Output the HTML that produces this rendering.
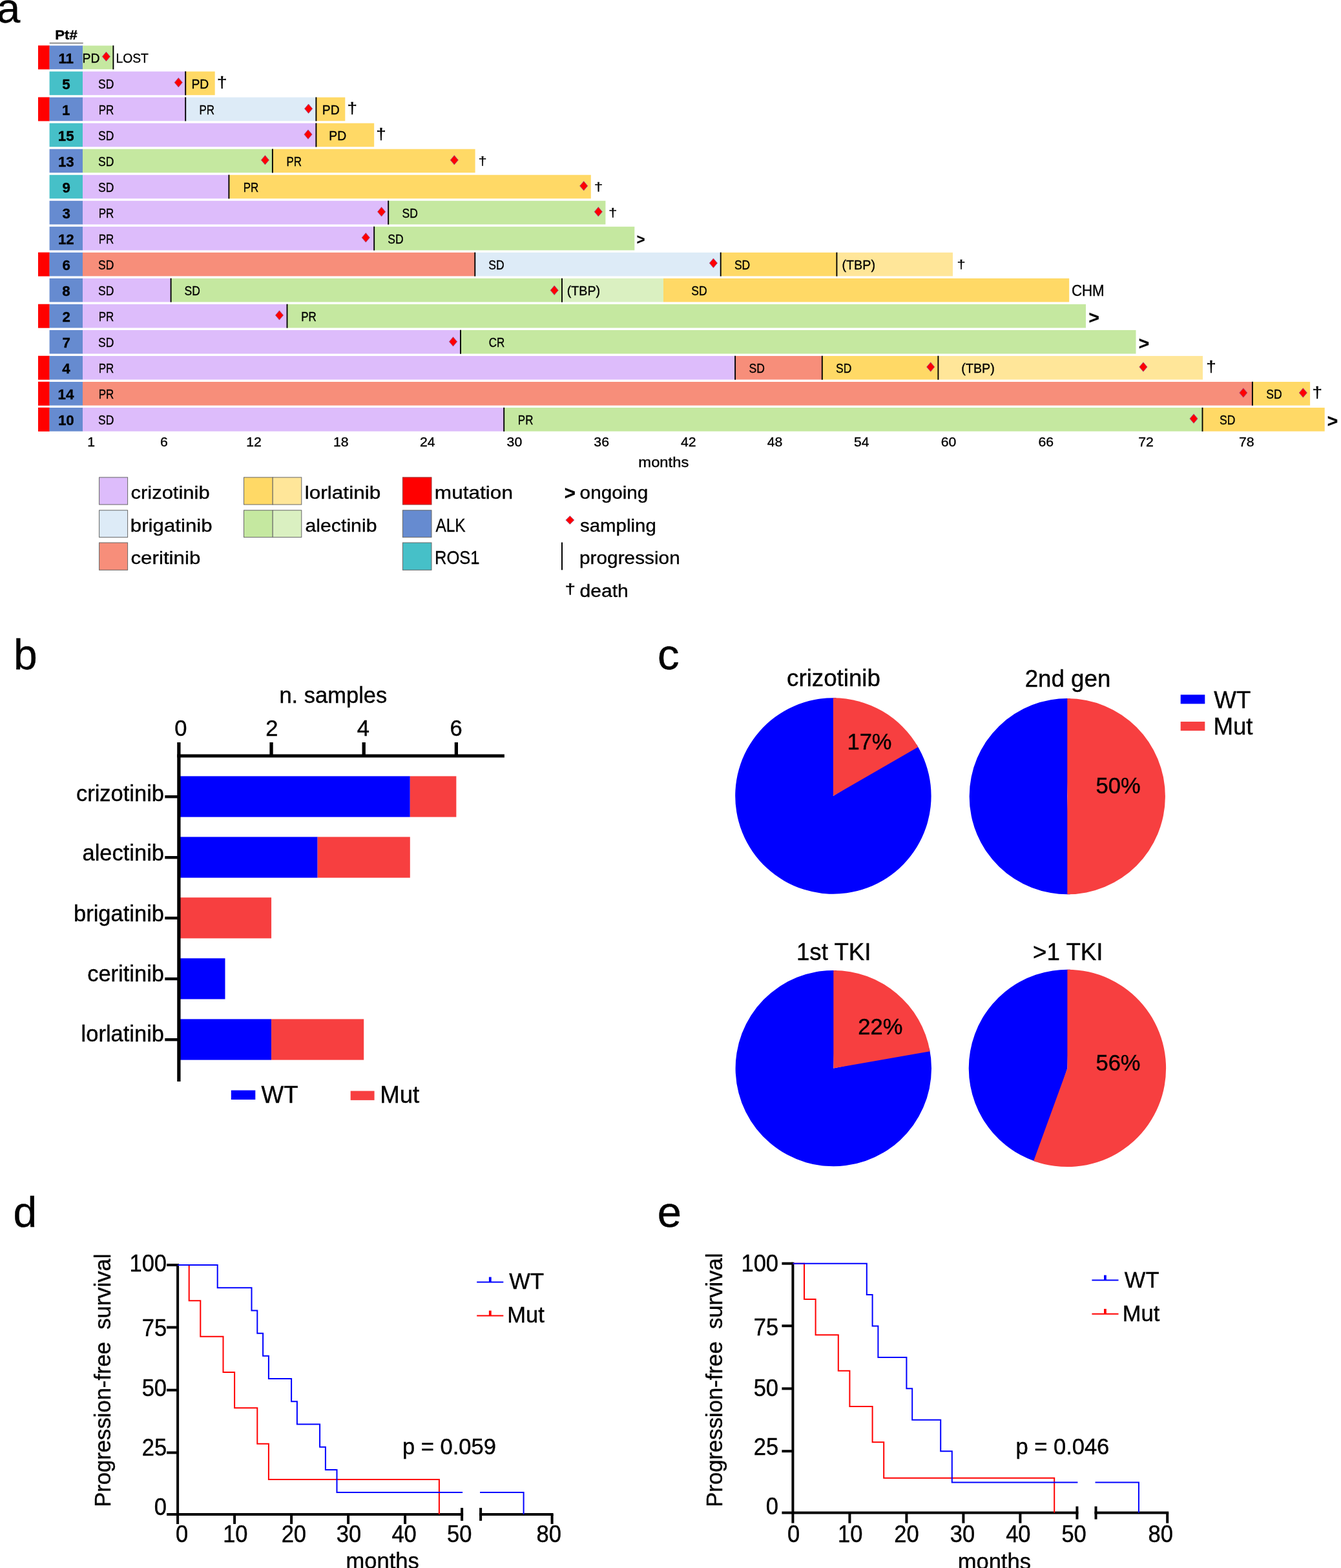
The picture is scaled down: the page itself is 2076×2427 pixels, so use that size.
<!DOCTYPE html>
<html lang="en">
<head>
<meta charset="utf-8">
<title>Figure: TKI treatment timelines and mutation analysis</title>
<style>
html,body{margin:0;padding:0;background:#fff;}
body{width:2076px;height:2427px;overflow:hidden;}
svg{display:block;font-family:"Liberation Sans", sans-serif;}
text{white-space:pre;}
</style>
</head>
<body>
<svg width="2076" height="2427" viewBox="0 0 2076 2427">
<rect width="2076" height="2427" fill="#ffffff"/>
<g id="panel-a">
<text transform="translate(-5.01,35.3) scale(0.9953,1.0000)" font-size="65.5" stroke="#000" stroke-width="0.35">a</text>
<text transform="translate(85.26,61.4) scale(1.0586,1.0000)" font-size="21" font-weight="bold" stroke="#000" stroke-width="0.35">Pt#</text>
<line x1="76.7" y1="66.7" x2="128.7" y2="66.7" stroke="#333" stroke-width="1.1"/>
<rect x="59" y="70.4" width="17.8" height="37" fill="#FF0000"/>
<rect x="76.6" y="70.6" width="51.6" height="36.6" fill="#668BD0"/>
<rect x="128" y="70.6" width="47" height="36.6" fill="#C5E8A0"/>
<line x1="175.4" y1="70.4" x2="175.4" y2="107.4" stroke="#000" stroke-width="1.9"/>
<polygon points="164.4,80.35 170.55,87.6 164.4,94.85 158.25,87.6" fill="#ff0000" stroke="#8a5aa8" stroke-width="0.7"/>
<text transform="translate(90.44,97.8) scale(1.0000,1.0000)" font-size="22.3" font-weight="bold" stroke="#000" stroke-width="0.35">11</text>
<text transform="translate(127.55,97) scale(0.9478,1.0000)" font-size="20.4" stroke="#000" stroke-width="0.35">PD</text>
<text transform="translate(179.46,97) scale(0.9449,1.0000)" font-size="20.4" stroke="#000" stroke-width="0.35">LOST</text>
<rect x="76.6" y="110.63" width="51.6" height="36.6" fill="#46C0C8"/>
<rect x="128" y="110.63" width="159.2" height="36.6" fill="#DDBCFB"/>
<rect x="287.2" y="110.63" width="45.5" height="36.6" fill="#FFD966"/>
<line x1="287.2" y1="110.43" x2="287.2" y2="147.43" stroke="#000" stroke-width="1.9"/>
<polygon points="276.3,120.38 282.45,127.63 276.3,134.88 270.15,127.63" fill="#ff0000" stroke="#8a5aa8" stroke-width="0.7"/>
<text transform="translate(96.36,137.83) scale(1.0000,1.0000)" font-size="22.3" font-weight="bold" stroke="#000" stroke-width="0.35">5</text>
<text transform="translate(152.11,137.03) scale(0.8579,1.0000)" font-size="20.4" stroke="#000" stroke-width="0.35">SD</text>
<text transform="translate(296.45,137.03) scale(0.9478,1.0000)" font-size="20.4" stroke="#000" stroke-width="0.35">PD</text>
<text transform="translate(336.1,135.53) scale(1.1666,1.0000)" font-size="23.8" stroke="#000" stroke-width="0.35">†</text>
<rect x="59" y="150.46" width="17.8" height="37" fill="#FF0000"/>
<rect x="76.6" y="150.66" width="51.6" height="36.6" fill="#668BD0"/>
<rect x="128" y="150.66" width="159.2" height="36.6" fill="#DDBCFB"/>
<rect x="287.2" y="150.66" width="202.2" height="36.6" fill="#DDEBF7"/>
<rect x="489.4" y="150.66" width="44.9" height="36.6" fill="#FFD966"/>
<line x1="287.2" y1="150.46" x2="287.2" y2="187.46" stroke="#000" stroke-width="1.9"/>
<line x1="489.4" y1="150.46" x2="489.4" y2="187.46" stroke="#000" stroke-width="1.9"/>
<polygon points="477.6,161.01 483.75,168.26 477.6,175.51 471.45,168.26" fill="#ff0000" stroke="#8a5aa8" stroke-width="0.7"/>
<text transform="translate(96.02,177.86) scale(1.0000,1.0000)" font-size="22.3" font-weight="bold" stroke="#000" stroke-width="0.35">1</text>
<text transform="translate(152.74,177.06) scale(0.8318,1.0000)" font-size="20.4" stroke="#000" stroke-width="0.35">PR</text>
<text transform="translate(308.54,177.06) scale(0.8318,1.0000)" font-size="20.4" stroke="#000" stroke-width="0.35">PR</text>
<text transform="translate(498.75,177.06) scale(0.9478,1.0000)" font-size="20.4" stroke="#000" stroke-width="0.35">PD</text>
<text transform="translate(537.4,175.56) scale(1.1666,1.0000)" font-size="23.8" stroke="#000" stroke-width="0.35">†</text>
<rect x="76.6" y="190.69" width="51.6" height="36.6" fill="#46C0C8"/>
<rect x="128" y="190.69" width="361.4" height="36.6" fill="#DDBCFB"/>
<rect x="489.4" y="190.69" width="89.8" height="36.6" fill="#FFD966"/>
<line x1="489.4" y1="190.49" x2="489.4" y2="227.49" stroke="#000" stroke-width="1.9"/>
<polygon points="477,200.84 483.15,208.09 477,215.34 470.85,208.09" fill="#ff0000" stroke="#8a5aa8" stroke-width="0.7"/>
<text transform="translate(89.82,217.89) scale(1.0000,1.0000)" font-size="22.3" font-weight="bold" stroke="#000" stroke-width="0.35">15</text>
<text transform="translate(152.11,217.09) scale(0.8579,1.0000)" font-size="20.4" stroke="#000" stroke-width="0.35">SD</text>
<text transform="translate(509.35,217.09) scale(0.9478,1.0000)" font-size="20.4" stroke="#000" stroke-width="0.35">PD</text>
<text transform="translate(582.3,215.59) scale(1.1666,1.0000)" font-size="23.8" stroke="#000" stroke-width="0.35">†</text>
<rect x="76.6" y="230.72" width="51.6" height="36.6" fill="#668BD0"/>
<rect x="128" y="230.72" width="293.9" height="36.6" fill="#C5E8A0"/>
<rect x="421.9" y="230.72" width="313.7" height="36.6" fill="#FFD966"/>
<line x1="421.9" y1="230.52" x2="421.9" y2="267.52" stroke="#000" stroke-width="1.9"/>
<polygon points="410.4,240.47 416.55,247.72 410.4,254.97 404.25,247.72" fill="#ff0000" stroke="#8a5aa8" stroke-width="0.7"/>
<polygon points="703.3,240.47 709.45,247.72 703.3,254.97 697.15,247.72" fill="#ff0000" stroke="#8a5aa8" stroke-width="0.7"/>
<text transform="translate(89.93,257.92) scale(1.0000,1.0000)" font-size="22.3" font-weight="bold" stroke="#000" stroke-width="0.35">13</text>
<text transform="translate(152.11,257.12) scale(0.8579,1.0000)" font-size="20.4" stroke="#000" stroke-width="0.35">SD</text>
<text transform="translate(443.54,257.12) scale(0.8318,1.0000)" font-size="20.4" stroke="#000" stroke-width="0.35">PR</text>
<text transform="translate(740.47,254.92) scale(1.2650,1.0000)" font-size="18.6" stroke="#000" stroke-width="0.35">†</text>
<rect x="76.6" y="270.75" width="51.6" height="36.6" fill="#46C0C8"/>
<rect x="128" y="270.75" width="226.4" height="36.6" fill="#DDBCFB"/>
<rect x="354.4" y="270.75" width="560.4" height="36.6" fill="#FFD966"/>
<line x1="354.4" y1="270.55" x2="354.4" y2="307.55" stroke="#000" stroke-width="1.9"/>
<polygon points="903.7,280.5 909.85,287.75 903.7,295 897.55,287.75" fill="#ff0000" stroke="#8a5aa8" stroke-width="0.7"/>
<text transform="translate(96.47,297.95) scale(1.0000,1.0000)" font-size="22.3" font-weight="bold" stroke="#000" stroke-width="0.35">9</text>
<text transform="translate(152.11,297.15) scale(0.8579,1.0000)" font-size="20.4" stroke="#000" stroke-width="0.35">SD</text>
<text transform="translate(376.64,297.15) scale(0.8318,1.0000)" font-size="20.4" stroke="#000" stroke-width="0.35">PR</text>
<text transform="translate(920.07,294.95) scale(1.2650,1.0000)" font-size="18.6" stroke="#000" stroke-width="0.35">†</text>
<rect x="76.6" y="310.78" width="51.6" height="36.6" fill="#668BD0"/>
<rect x="128" y="310.78" width="473.2" height="36.6" fill="#DDBCFB"/>
<rect x="601.2" y="310.78" width="336.2" height="36.6" fill="#C5E8A0"/>
<line x1="601.2" y1="310.58" x2="601.2" y2="347.58" stroke="#000" stroke-width="1.9"/>
<polygon points="590.6,320.53 596.75,327.78 590.6,335.03 584.45,327.78" fill="#ff0000" stroke="#8a5aa8" stroke-width="0.7"/>
<polygon points="926.3,320.53 932.45,327.78 926.3,335.03 920.15,327.78" fill="#ff0000" stroke="#8a5aa8" stroke-width="0.7"/>
<text transform="translate(96.58,337.98) scale(1.0000,1.0000)" font-size="22.3" font-weight="bold" stroke="#000" stroke-width="0.35">3</text>
<text transform="translate(152.74,337.18) scale(0.8318,1.0000)" font-size="20.4" stroke="#000" stroke-width="0.35">PR</text>
<text transform="translate(622.51,337.18) scale(0.8579,1.0000)" font-size="20.4" stroke="#000" stroke-width="0.35">SD</text>
<text transform="translate(942.37,334.98) scale(1.2650,1.0000)" font-size="18.6" stroke="#000" stroke-width="0.35">†</text>
<rect x="76.6" y="350.81" width="51.6" height="36.6" fill="#668BD0"/>
<rect x="128" y="350.81" width="451.2" height="36.6" fill="#DDBCFB"/>
<rect x="579.2" y="350.81" width="403.1" height="36.6" fill="#C5E8A0"/>
<line x1="579.2" y1="350.61" x2="579.2" y2="387.61" stroke="#000" stroke-width="1.9"/>
<polygon points="566.3,360.56 572.45,367.81 566.3,375.06 560.15,367.81" fill="#ff0000" stroke="#8a5aa8" stroke-width="0.7"/>
<text transform="translate(89.93,378.01) scale(1.0000,1.0000)" font-size="22.3" font-weight="bold" stroke="#000" stroke-width="0.35">12</text>
<text transform="translate(152.74,377.21) scale(0.8318,1.0000)" font-size="20.4" stroke="#000" stroke-width="0.35">PR</text>
<text transform="translate(600.21,377.21) scale(0.8579,1.0000)" font-size="20.4" stroke="#000" stroke-width="0.35">SD</text>
<text transform="translate(985.83,378.21) scale(1.0038,1.0000)" font-size="21.7" font-weight="bold" stroke="#000" stroke-width="0.35">&gt;</text>
<rect x="59" y="390.64" width="17.8" height="37" fill="#FF0000"/>
<rect x="76.6" y="390.84" width="51.6" height="36.6" fill="#668BD0"/>
<rect x="128" y="390.84" width="607.3" height="36.6" fill="#F78E7A"/>
<rect x="735.3" y="390.84" width="380.4" height="36.6" fill="#DDEBF7"/>
<rect x="1115.7" y="390.84" width="179.7" height="36.6" fill="#FFD966"/>
<rect x="1295.4" y="390.84" width="179.6" height="36.6" fill="#FFE699"/>
<line x1="735.3" y1="390.64" x2="735.3" y2="427.64" stroke="#000" stroke-width="1.9"/>
<line x1="1115.7" y1="390.64" x2="1115.7" y2="427.64" stroke="#000" stroke-width="1.9"/>
<line x1="1295.4" y1="390.64" x2="1295.4" y2="427.64" stroke="#000" stroke-width="1.9"/>
<polygon points="1104.4,399.99 1110.55,407.24 1104.4,414.49 1098.25,407.24" fill="#ff0000" stroke="#8a5aa8" stroke-width="0.7"/>
<text transform="translate(96.41,418.04) scale(1.0000,1.0000)" font-size="22.3" font-weight="bold" stroke="#000" stroke-width="0.35">6</text>
<text transform="translate(152.11,417.24) scale(0.8579,1.0000)" font-size="20.4" stroke="#000" stroke-width="0.35">SD</text>
<text transform="translate(756.31,417.24) scale(0.8579,1.0000)" font-size="20.4" stroke="#000" stroke-width="0.35">SD</text>
<text transform="translate(1136.91,417.24) scale(0.8579,1.0000)" font-size="20.4" stroke="#000" stroke-width="0.35">SD</text>
<text transform="translate(1303.52,417.24) scale(0.9655,1.0000)" font-size="20.4" stroke="#000" stroke-width="0.35">(TBP)</text>
<text transform="translate(1481.47,415.04) scale(1.2650,1.0000)" font-size="18.6" stroke="#000" stroke-width="0.35">†</text>
<rect x="76.6" y="430.87" width="51.6" height="36.6" fill="#668BD0"/>
<rect x="128" y="430.87" width="136.6" height="36.6" fill="#DDBCFB"/>
<rect x="264.6" y="430.87" width="605.4" height="36.6" fill="#C5E8A0"/>
<rect x="870" y="430.87" width="157" height="36.6" fill="#DAF0C1"/>
<rect x="1027" y="430.87" width="628.2" height="36.6" fill="#FFD966"/>
<line x1="264.6" y1="430.67" x2="264.6" y2="467.67" stroke="#000" stroke-width="1.9"/>
<line x1="870" y1="430.67" x2="870" y2="467.67" stroke="#000" stroke-width="1.9"/>
<polygon points="858.2,442.12 864.35,449.37 858.2,456.62 852.05,449.37" fill="#ff0000" stroke="#8a5aa8" stroke-width="0.7"/>
<text transform="translate(96.36,458.07) scale(1.0000,1.0000)" font-size="22.3" font-weight="bold" stroke="#000" stroke-width="0.35">8</text>
<text transform="translate(152.11,457.27) scale(0.8579,1.0000)" font-size="20.4" stroke="#000" stroke-width="0.35">SD</text>
<text transform="translate(285.61,457.27) scale(0.8579,1.0000)" font-size="20.4" stroke="#000" stroke-width="0.35">SD</text>
<text transform="translate(877.72,457.27) scale(0.9655,1.0000)" font-size="20.4" stroke="#000" stroke-width="0.35">(TBP)</text>
<text transform="translate(1070.31,457.27) scale(0.8579,1.0000)" font-size="20.4" stroke="#000" stroke-width="0.35">SD</text>
<text transform="translate(1658.89,458.47) scale(0.9524,1.0000)" font-size="23.4" stroke="#000" stroke-width="0.35">CHM</text>
<rect x="59" y="470.7" width="17.8" height="37" fill="#FF0000"/>
<rect x="76.6" y="470.9" width="51.6" height="36.6" fill="#668BD0"/>
<rect x="128" y="470.9" width="316.5" height="36.6" fill="#DDBCFB"/>
<rect x="444.5" y="470.9" width="1236.5" height="36.6" fill="#C5E8A0"/>
<line x1="444.5" y1="470.7" x2="444.5" y2="507.7" stroke="#000" stroke-width="1.9"/>
<polygon points="432.5,480.65 438.65,487.9 432.5,495.15 426.35,487.9" fill="#ff0000" stroke="#8a5aa8" stroke-width="0.7"/>
<text transform="translate(96.47,498.1) scale(1.0000,1.0000)" font-size="22.3" font-weight="bold" stroke="#000" stroke-width="0.35">2</text>
<text transform="translate(152.74,497.3) scale(0.8318,1.0000)" font-size="20.4" stroke="#000" stroke-width="0.35">PR</text>
<text transform="translate(466.14,497.3) scale(0.8318,1.0000)" font-size="20.4" stroke="#000" stroke-width="0.35">PR</text>
<text transform="translate(1685.48,500.8) scale(0.9936,1.0000)" font-size="28.3" font-weight="bold" stroke="#000" stroke-width="0.35">&gt;</text>
<rect x="76.6" y="510.93" width="51.6" height="36.6" fill="#668BD0"/>
<rect x="128" y="510.93" width="585" height="36.6" fill="#DDBCFB"/>
<rect x="713" y="510.93" width="1045.5" height="36.6" fill="#C5E8A0"/>
<line x1="713" y1="510.73" x2="713" y2="547.73" stroke="#000" stroke-width="1.9"/>
<polygon points="701.5,521.58 707.65,528.83 701.5,536.08 695.35,528.83" fill="#ff0000" stroke="#8a5aa8" stroke-width="0.7"/>
<text transform="translate(96.41,538.13) scale(1.0000,1.0000)" font-size="22.3" font-weight="bold" stroke="#000" stroke-width="0.35">7</text>
<text transform="translate(152.11,537.33) scale(0.8579,1.0000)" font-size="20.4" stroke="#000" stroke-width="0.35">SD</text>
<text transform="translate(756.85,537.33) scale(0.8338,1.0000)" font-size="20.4" stroke="#000" stroke-width="0.35">CR</text>
<text transform="translate(1762.68,540.83) scale(0.9936,1.0000)" font-size="28.3" font-weight="bold" stroke="#000" stroke-width="0.35">&gt;</text>
<rect x="59" y="550.76" width="17.8" height="37" fill="#FF0000"/>
<rect x="76.6" y="550.96" width="51.6" height="36.6" fill="#668BD0"/>
<rect x="128" y="550.96" width="1010.1" height="36.6" fill="#DDBCFB"/>
<rect x="1138.1" y="550.96" width="134.7" height="36.6" fill="#F78E7A"/>
<rect x="1272.8" y="550.96" width="179.6" height="36.6" fill="#FFD966"/>
<rect x="1452.4" y="550.96" width="409.6" height="36.6" fill="#FFE699"/>
<line x1="1138.1" y1="550.76" x2="1138.1" y2="587.76" stroke="#000" stroke-width="1.9"/>
<line x1="1272.8" y1="550.76" x2="1272.8" y2="587.76" stroke="#000" stroke-width="1.9"/>
<line x1="1452.4" y1="550.76" x2="1452.4" y2="587.76" stroke="#000" stroke-width="1.9"/>
<polygon points="1440.7,560.71 1446.85,567.96 1440.7,575.21 1434.55,567.96" fill="#ff0000" stroke="#8a5aa8" stroke-width="0.7"/>
<polygon points="1769.9,560.71 1776.05,567.96 1769.9,575.21 1763.75,567.96" fill="#ff0000" stroke="#8a5aa8" stroke-width="0.7"/>
<text transform="translate(96.24,578.16) scale(1.0000,1.0000)" font-size="22.3" font-weight="bold" stroke="#000" stroke-width="0.35">4</text>
<text transform="translate(152.74,577.36) scale(0.8318,1.0000)" font-size="20.4" stroke="#000" stroke-width="0.35">PR</text>
<text transform="translate(1159.51,577.36) scale(0.8579,1.0000)" font-size="20.4" stroke="#000" stroke-width="0.35">SD</text>
<text transform="translate(1294.11,577.36) scale(0.8579,1.0000)" font-size="20.4" stroke="#000" stroke-width="0.35">SD</text>
<text transform="translate(1488.32,577.36) scale(0.9655,1.0000)" font-size="20.4" stroke="#000" stroke-width="0.35">(TBP)</text>
<text transform="translate(1867.3,575.86) scale(1.1666,1.0000)" font-size="23.8" stroke="#000" stroke-width="0.35">†</text>
<rect x="59" y="590.79" width="17.8" height="37" fill="#FF0000"/>
<rect x="76.6" y="590.99" width="51.6" height="36.6" fill="#668BD0"/>
<rect x="128" y="590.99" width="1810.9" height="36.6" fill="#F78E7A"/>
<rect x="1938.9" y="590.99" width="89.2" height="36.6" fill="#FFD966"/>
<line x1="1938.9" y1="590.79" x2="1938.9" y2="627.79" stroke="#000" stroke-width="1.9"/>
<polygon points="1924.8,600.74 1930.95,607.99 1924.8,615.24 1918.65,607.99" fill="#ff0000" stroke="#8a5aa8" stroke-width="0.7"/>
<polygon points="2017.3,600.74 2023.45,607.99 2017.3,615.24 2011.15,607.99" fill="#ff0000" stroke="#8a5aa8" stroke-width="0.7"/>
<text transform="translate(89.54,618.19) scale(1.0000,1.0000)" font-size="22.3" font-weight="bold" stroke="#000" stroke-width="0.35">14</text>
<text transform="translate(152.74,617.39) scale(0.8318,1.0000)" font-size="20.4" stroke="#000" stroke-width="0.35">PR</text>
<text transform="translate(1960.21,617.39) scale(0.8579,1.0000)" font-size="20.4" stroke="#000" stroke-width="0.35">SD</text>
<text transform="translate(2031.6,615.89) scale(1.1666,1.0000)" font-size="23.8" stroke="#000" stroke-width="0.35">†</text>
<rect x="59" y="630.82" width="17.8" height="37" fill="#FF0000"/>
<rect x="76.6" y="631.02" width="51.6" height="36.6" fill="#668BD0"/>
<rect x="128" y="631.02" width="652.2" height="36.6" fill="#DDBCFB"/>
<rect x="780.2" y="631.02" width="1081.3" height="36.6" fill="#C5E8A0"/>
<rect x="1861.5" y="631.02" width="189.2" height="36.6" fill="#FFD966"/>
<line x1="780.2" y1="630.82" x2="780.2" y2="667.82" stroke="#000" stroke-width="1.9"/>
<line x1="1861.5" y1="630.82" x2="1861.5" y2="667.82" stroke="#000" stroke-width="1.9"/>
<polygon points="1848,640.77 1854.15,648.02 1848,655.27 1841.85,648.02" fill="#ff0000" stroke="#8a5aa8" stroke-width="0.7"/>
<text transform="translate(89.93,658.22) scale(1.0000,1.0000)" font-size="22.3" font-weight="bold" stroke="#000" stroke-width="0.35">10</text>
<text transform="translate(152.11,657.42) scale(0.8579,1.0000)" font-size="20.4" stroke="#000" stroke-width="0.35">SD</text>
<text transform="translate(801.84,657.42) scale(0.8318,1.0000)" font-size="20.4" stroke="#000" stroke-width="0.35">PR</text>
<text transform="translate(1888.11,657.42) scale(0.8579,1.0000)" font-size="20.4" stroke="#000" stroke-width="0.35">SD</text>
<text transform="translate(2054.78,660.92) scale(0.9936,1.0000)" font-size="28.3" font-weight="bold" stroke="#000" stroke-width="0.35">&gt;</text>
<text transform="translate(135.19,691.4) scale(1.0300,1.0000)" font-size="20.6" stroke="#000" stroke-width="0.35">1</text>
<text transform="translate(247.91,691.4) scale(1.0300,1.0000)" font-size="20.6" stroke="#000" stroke-width="0.35">6</text>
<text transform="translate(381.29,691.4) scale(1.0300,1.0000)" font-size="20.6" stroke="#000" stroke-width="0.35">12</text>
<text transform="translate(516.04,691.4) scale(1.0300,1.0000)" font-size="20.6" stroke="#000" stroke-width="0.35">18</text>
<text transform="translate(649.95,691.4) scale(1.0300,1.0000)" font-size="20.6" stroke="#000" stroke-width="0.35">24</text>
<text transform="translate(784.61,691.4) scale(1.0300,1.0000)" font-size="20.6" stroke="#000" stroke-width="0.35">30</text>
<text transform="translate(919.36,691.4) scale(1.0300,1.0000)" font-size="20.6" stroke="#000" stroke-width="0.35">36</text>
<text transform="translate(1053.88,691.4) scale(1.0300,1.0000)" font-size="20.6" stroke="#000" stroke-width="0.35">42</text>
<text transform="translate(1187.72,691.4) scale(1.0300,1.0000)" font-size="20.6" stroke="#000" stroke-width="0.35">48</text>
<text transform="translate(1322.05,691.4) scale(1.0300,1.0000)" font-size="20.6" stroke="#000" stroke-width="0.35">54</text>
<text transform="translate(1456.65,691.4) scale(1.0300,1.0000)" font-size="20.6" stroke="#000" stroke-width="0.35">60</text>
<text transform="translate(1607.51,691.4) scale(1.0300,1.0000)" font-size="20.6" stroke="#000" stroke-width="0.35">66</text>
<text transform="translate(1762.26,691.4) scale(1.0300,1.0000)" font-size="20.6" stroke="#000" stroke-width="0.35">72</text>
<text transform="translate(1918.01,691.4) scale(1.0300,1.0000)" font-size="20.6" stroke="#000" stroke-width="0.35">78</text>
<text transform="translate(988.35,723.1) scale(1.1216,1.0000)" font-size="21.2" stroke="#000" stroke-width="0.35">months</text>
<rect x="153.6" y="738.9" width="44" height="42.1" fill="#DDBCFB" stroke="#666" stroke-width="1"/>
<rect x="153.6" y="789.8" width="44" height="41.8" fill="#DDEBF7" stroke="#666" stroke-width="1"/>
<rect x="153.6" y="840" width="44" height="42.3" fill="#F78E7A" stroke="#666" stroke-width="1"/>
<text transform="translate(202.46,771.7) scale(1.1231,1.0000)" font-size="27.6" stroke="#000" stroke-width="0.35">crizotinib</text>
<text transform="translate(201.83,822.8) scale(1.1317,1.0000)" font-size="27.6" stroke="#000" stroke-width="0.35">brigatinib</text>
<text transform="translate(202.45,872.7) scale(1.1350,1.0000)" font-size="27.6" stroke="#000" stroke-width="0.35">ceritinib</text>
<rect x="377.5" y="738.9" width="44.7" height="42.1" fill="#FFD966" stroke="#666" stroke-width="1"/>
<rect x="422.2" y="738.9" width="44.6" height="42.1" fill="#FFE699" stroke="#666" stroke-width="1"/>
<rect x="377.5" y="789.8" width="44.7" height="41.8" fill="#C5E8A0" stroke="#666" stroke-width="1"/>
<rect x="422.2" y="789.8" width="44.6" height="41.8" fill="#DAF0C1" stroke="#666" stroke-width="1"/>
<text transform="translate(471.64,771.7) scale(1.1457,1.0000)" font-size="27.6" stroke="#000" stroke-width="0.35">lorlatinib</text>
<text transform="translate(472.49,822.8) scale(1.0967,1.0000)" font-size="27.6" stroke="#000" stroke-width="0.35">alectinib</text>
<rect x="623.4" y="738.9" width="44.6" height="42.1" fill="#FF0000" stroke="#933" stroke-width="1"/>
<rect x="623.4" y="789.8" width="44.6" height="41.8" fill="#668BD0" stroke="#666" stroke-width="1"/>
<rect x="623.4" y="840" width="44.6" height="42.3" fill="#46C0C8" stroke="#666" stroke-width="1"/>
<text transform="translate(672.85,771.7) scale(1.1448,1.0000)" font-size="27.6" stroke="#000" stroke-width="0.35">mutation</text>
<text transform="translate(674.4,822.8) scale(0.8160,1.0000)" font-size="30" stroke="#000" stroke-width="0.35">ALK</text>
<text transform="translate(672.96,872.7) scale(0.8510,1.0000)" font-size="30" stroke="#000" stroke-width="0.35">ROS1</text>
<text transform="translate(873.82,772.5) scale(1.0174,1.0000)" font-size="29" font-weight="bold" stroke="#000" stroke-width="0.35">&gt;</text>
<text transform="translate(897.61,771.7) scale(1.0771,1.0000)" font-size="27.6" stroke="#000" stroke-width="0.35">ongoing</text>
<polygon points="882.3,798.5 888.8,805 882.3,811.5 875.8,805" fill="#ff0000" stroke="#8a5aa8" stroke-width="0.7"/>
<text transform="translate(898.06,822.8) scale(1.0659,1.0000)" font-size="27.6" stroke="#000" stroke-width="0.35">sampling</text>
<line x1="870" y1="839.6" x2="870" y2="882.3" stroke="#000" stroke-width="2"/>
<text transform="translate(897.01,872.7) scale(1.0797,1.0000)" font-size="27.6" stroke="#000" stroke-width="0.35">progression</text>
<text transform="translate(874.47,919.2) scale(1.3295,1.0000)" font-size="22.3" stroke="#000" stroke-width="0.35">†</text>
<text transform="translate(897.6,924.2) scale(1.0894,1.0000)" font-size="27.6" stroke="#000" stroke-width="0.35">death</text>
</g>
<g id="panel-b">
<text transform="translate(21.12,1035.7) scale(1.0000,1.0000)" font-size="66" stroke="#000" stroke-width="0.4">b</text>
<text transform="translate(432.42,1088.2) scale(1.0000,1.0000)" font-size="34.5" stroke="#000" stroke-width="0.4">n. samples</text>
<rect x="276.9" y="1201.4" width="357.9" height="63.2" fill="#0000FF"/>
<rect x="634.8" y="1201.4" width="71.58" height="63.2" fill="#F73F40"/>
<rect x="276.9" y="1295.4" width="214.74" height="63.2" fill="#0000FF"/>
<rect x="491.64" y="1295.4" width="143.16" height="63.2" fill="#F73F40"/>
<rect x="276.9" y="1389.2" width="143.16" height="63.2" fill="#F73F40"/>
<rect x="276.9" y="1483.3" width="71.58" height="63.2" fill="#0000FF"/>
<rect x="276.9" y="1577.4" width="143.16" height="63.2" fill="#0000FF"/>
<rect x="420.06" y="1577.4" width="143.16" height="63.2" fill="#F73F40"/>
<line x1="276.9" y1="1149" x2="276.9" y2="1673.9" stroke="#000" stroke-width="5.3"/>
<line x1="274.25" y1="1170.1" x2="780.9" y2="1170.1" stroke="#000" stroke-width="5"/>
<text transform="translate(270.23,1139) scale(1.0000,1.0000)" font-size="34.5" stroke="#000" stroke-width="0.4">0</text>
<line x1="420.06" y1="1149" x2="420.06" y2="1170.1" stroke="#000" stroke-width="5.3"/>
<text transform="translate(411.34,1139) scale(1.0000,1.0000)" font-size="34.5" stroke="#000" stroke-width="0.4">2</text>
<line x1="563.22" y1="1149" x2="563.22" y2="1170.1" stroke="#000" stroke-width="5.3"/>
<text transform="translate(552.81,1139) scale(1.0000,1.0000)" font-size="34.5" stroke="#000" stroke-width="0.4">4</text>
<line x1="706.38" y1="1149" x2="706.38" y2="1170.1" stroke="#000" stroke-width="5.3"/>
<text transform="translate(696.55,1139) scale(1.0000,1.0000)" font-size="34.5" stroke="#000" stroke-width="0.4">6</text>
<text transform="translate(117.89,1240.3) scale(1.0000,1.0000)" font-size="34.5" stroke="#000" stroke-width="0.4">crizotinib</text>
<line x1="255.3" y1="1233.2" x2="276.9" y2="1233.2" stroke="#000" stroke-width="4.4"/>
<text transform="translate(127.44,1331.6) scale(1.0000,1.0000)" font-size="34.5" stroke="#000" stroke-width="0.4">alectinib</text>
<line x1="255.3" y1="1327.2" x2="276.9" y2="1327.2" stroke="#000" stroke-width="4.4"/>
<text transform="translate(114.02,1426.2) scale(1.0000,1.0000)" font-size="34.5" stroke="#000" stroke-width="0.4">brigatinib</text>
<line x1="255.3" y1="1421" x2="276.9" y2="1421" stroke="#000" stroke-width="4.4"/>
<text transform="translate(135.14,1518.6) scale(1.0000,1.0000)" font-size="34.5" stroke="#000" stroke-width="0.4">ceritinib</text>
<line x1="255.3" y1="1515.1" x2="276.9" y2="1515.1" stroke="#000" stroke-width="4.4"/>
<text transform="translate(125.54,1611.9) scale(1.0000,1.0000)" font-size="34.5" stroke="#000" stroke-width="0.4">lorlatinib</text>
<line x1="255.3" y1="1609.2" x2="276.9" y2="1609.2" stroke="#000" stroke-width="4.4"/>
<rect x="357.8" y="1687.6" width="37.5" height="14.4" fill="#0000FF"/>
<text transform="translate(404.6,1707) scale(1.0000,1.0000)" font-size="36.7" stroke="#000" stroke-width="0.4">WT</text>
<rect x="542.7" y="1688.6" width="36.9" height="14.3" fill="#F73F40"/>
<text transform="translate(588.14,1707) scale(1.0000,1.0000)" font-size="36.7" stroke="#000" stroke-width="0.4">Mut</text>
</g>
<g id="panel-c">
<text transform="translate(1018,1036) scale(1.0000,1.0000)" font-size="67" stroke="#000" stroke-width="0.4">c</text>
<text transform="translate(1218.12,1061.8) scale(1.0000,1.0000)" font-size="36.7" stroke="#000" stroke-width="0.4">crizotinib</text>
<text transform="translate(1586.72,1062.7) scale(1.0000,1.0000)" font-size="36.7" stroke="#000" stroke-width="0.4">2nd gen</text>
<path d="M1289.9,1232 L1418.94,1152.24 A151.7,151.7 0 1 1 1294.45,1080.37 Z" fill="#0000FF"/>
<path d="M1289.9,1232 L1289.9,1080.3 A151.7,151.7 0 0 1 1421.28,1156.15 Z" fill="#F73F40"/>
<path d="M1652.3,1232.7 L1656.85,1384.23 A151.6,151.6 0 1 1 1656.85,1081.17 Z" fill="#0000FF"/>
<path d="M1652.3,1232.7 L1652.3,1081.1 A151.6,151.6 0 0 1 1652.3,1384.3 Z" fill="#F73F40"/>
<text transform="translate(1311.47,1160.4) scale(1.0000,1.0000)" font-size="34.5" stroke="#000" stroke-width="0.4">17%</text>
<text transform="translate(1696.52,1227.6) scale(1.0000,1.0000)" font-size="34.5" stroke="#000" stroke-width="0.4">50%</text>
<rect x="1827.7" y="1075.3" width="37.6" height="14.1" fill="#0000FF"/>
<text transform="translate(1879.25,1095.6) scale(1.0000,1.0000)" font-size="36.7" stroke="#000" stroke-width="0.4">WT</text>
<rect x="1827.7" y="1117" width="37.6" height="14" fill="#F73F40"/>
<text transform="translate(1878.39,1136.9) scale(1.0000,1.0000)" font-size="36.7" stroke="#000" stroke-width="0.4">Mut</text>
<text transform="translate(1232.96,1485.5) scale(1.0000,1.0000)" font-size="36.7" stroke="#000" stroke-width="0.4">1st TKI</text>
<text transform="translate(1599.07,1485.5) scale(1.0000,1.0000)" font-size="36.7" stroke="#000" stroke-width="0.4">&gt;1 TKI</text>
<path d="M1290.3,1653.6 L1438.84,1622.79 A151.7,151.7 0 1 1 1294.85,1501.97 Z" fill="#0000FF"/>
<path d="M1290.3,1653.6 L1290.3,1501.9 A151.7,151.7 0 0 1 1439.7,1627.26 Z" fill="#F73F40"/>
<path d="M1652.4,1653.4 L1604.5,1798.39 A152.7,152.7 0 0 1 1656.98,1500.77 Z" fill="#0000FF"/>
<path d="M1652.4,1653.4 L1652.4,1500.7 A152.7,152.7 0 1 1 1600.17,1796.89 Z" fill="#F73F40"/>
<text transform="translate(1328.35,1600.9) scale(1.0000,1.0000)" font-size="34.5" stroke="#000" stroke-width="0.4">22%</text>
<text transform="translate(1696.47,1656.6) scale(1.0000,1.0000)" font-size="34.5" stroke="#000" stroke-width="0.4">56%</text>
</g>
<g id="panel-d">
<text transform="translate(20.59,1899.2) scale(1.0000,1.0000)" font-size="66" stroke="#000" stroke-width="0.4">d</text>
<line x1="275.1" y1="1956" x2="275.1" y2="2358.9" stroke="#000" stroke-width="4"/>
<line x1="258.1" y1="2343.9" x2="717.1" y2="2343.9" stroke="#000" stroke-width="4"/>
<line x1="742.1" y1="2343.9" x2="856.6" y2="2343.9" stroke="#000" stroke-width="4"/>
<line x1="258.1" y1="1958" x2="275.1" y2="1958" stroke="#000" stroke-width="4"/>
<line x1="258.1" y1="2054.52" x2="275.1" y2="2054.52" stroke="#000" stroke-width="4"/>
<line x1="258.1" y1="2151.65" x2="275.1" y2="2151.65" stroke="#000" stroke-width="4"/>
<line x1="258.1" y1="2248.47" x2="275.1" y2="2248.47" stroke="#000" stroke-width="4"/>
<line x1="363.1" y1="2343.9" x2="363.1" y2="2358.9" stroke="#000" stroke-width="4"/>
<line x1="451.1" y1="2343.9" x2="451.1" y2="2358.9" stroke="#000" stroke-width="4"/>
<line x1="539.1" y1="2343.9" x2="539.1" y2="2358.9" stroke="#000" stroke-width="4"/>
<line x1="627.1" y1="2343.9" x2="627.1" y2="2358.9" stroke="#000" stroke-width="4"/>
<line x1="715.1" y1="2333.9" x2="715.1" y2="2353.9" stroke="#000" stroke-width="4"/>
<line x1="744.1" y1="2333.9" x2="744.1" y2="2353.9" stroke="#000" stroke-width="4"/>
<line x1="854.6" y1="2343.9" x2="854.6" y2="2358.9" stroke="#000" stroke-width="4"/>
<path d="M275.1,1958 H292.7 V2013.33 H310.3 V2068.66 H345.5 V2123.99 H363.1 V2179.31 H398.3 V2234.64 H415.9 V2289.97 H679.9 V2343.9" fill="none" stroke="#FF0000" stroke-width="2" stroke-linejoin="miter"/>
<path d="M275.1,1958 H336.7 V1993.21 H389.5 V2028.42 H398.3 V2063.63 H407.1 V2098.84 H415.9 V2134.05 H451.1 V2169.25 H459.9 V2204.46 H495.1 V2239.67 H503.9 V2274.88 H521.5 V2310.09 H716.1 M743.1,2310.09 H810.6 V2343.9" fill="none" stroke="#0000FF" stroke-width="2" stroke-linejoin="miter"/>
<text transform="translate(171.4,2332.77) rotate(-90) scale(0.9668,1)" font-size="35.8" stroke="#000" stroke-width="0.4">Progression-free  survival</text>
<text transform="translate(200.49,1968.4) scale(1.0000,1.0550)" font-size="34.5" stroke="#000" stroke-width="0.4">100</text>
<text transform="translate(219.85,2067.8) scale(1.0000,1.0550)" font-size="34.5" stroke="#000" stroke-width="0.4">75</text>
<text transform="translate(219.67,2161) scale(1.0000,1.0550)" font-size="34.5" stroke="#000" stroke-width="0.4">50</text>
<text transform="translate(219.85,2252.6) scale(1.0000,1.0550)" font-size="34.5" stroke="#000" stroke-width="0.4">25</text>
<text transform="translate(238.86,2345.2) scale(1.0000,1.0550)" font-size="34.5" stroke="#000" stroke-width="0.4">0</text>
<text transform="translate(271.98,2387) scale(1.0000,1.0550)" font-size="34.5" stroke="#000" stroke-width="0.4">0</text>
<text transform="translate(345.19,2387) scale(1.0000,1.0550)" font-size="34.5" stroke="#000" stroke-width="0.4">10</text>
<text transform="translate(435.67,2387) scale(1.0000,1.0550)" font-size="34.5" stroke="#000" stroke-width="0.4">20</text>
<text transform="translate(520.73,2387) scale(1.0000,1.0550)" font-size="34.5" stroke="#000" stroke-width="0.4">30</text>
<text transform="translate(606.44,2387) scale(1.0000,1.0550)" font-size="34.5" stroke="#000" stroke-width="0.4">40</text>
<text transform="translate(692.1,2387) scale(1.0000,1.0550)" font-size="34.5" stroke="#000" stroke-width="0.4">50</text>
<text transform="translate(830.45,2387) scale(1.0000,1.0550)" font-size="34.5" stroke="#000" stroke-width="0.4">80</text>
<text transform="translate(535.56,2428.2) scale(1.0000,1.0000)" font-size="34.5" stroke="#000" stroke-width="0.4">months</text>
<text transform="translate(623.04,2251.2) scale(1.0000,1.0000)" font-size="34.5" stroke="#000" stroke-width="0.4">p = 0.059</text>
<line x1="738.2" y1="1984.5" x2="779.3" y2="1984.5" stroke="#0000FF" stroke-width="2"/>
<line x1="758.8" y1="1976.6" x2="758.8" y2="1984.5" stroke="#0000FF" stroke-width="3.8"/>
<text transform="translate(788.34,1995.4) scale(1.0000,1.0000)" font-size="34.5" stroke="#000" stroke-width="0.4">WT</text>
<line x1="738.2" y1="2036.4" x2="779.3" y2="2036.4" stroke="#FF0000" stroke-width="2"/>
<line x1="758.8" y1="2028.6" x2="758.8" y2="2036.4" stroke="#FF0000" stroke-width="3.8"/>
<text transform="translate(785.31,2047.1) scale(1.0000,1.0000)" font-size="34.5" stroke="#000" stroke-width="0.4">Mut</text>
</g>
<g id="panel-e">
<text transform="translate(1017.66,1898.6) scale(1.0000,1.0000)" font-size="67" stroke="#000" stroke-width="0.4">e</text>
<line x1="1227.4" y1="1953.7" x2="1227.4" y2="2357.6" stroke="#000" stroke-width="4"/>
<line x1="1210.4" y1="2341.6" x2="1669.4" y2="2341.6" stroke="#000" stroke-width="4"/>
<line x1="1694.5" y1="2341.6" x2="1809.2" y2="2341.6" stroke="#000" stroke-width="4"/>
<line x1="1210.4" y1="1955.7" x2="1227.4" y2="1955.7" stroke="#000" stroke-width="4"/>
<line x1="1210.4" y1="2052.22" x2="1227.4" y2="2052.22" stroke="#000" stroke-width="4"/>
<line x1="1210.4" y1="2149.35" x2="1227.4" y2="2149.35" stroke="#000" stroke-width="4"/>
<line x1="1210.4" y1="2246.18" x2="1227.4" y2="2246.18" stroke="#000" stroke-width="4"/>
<line x1="1315.4" y1="2341.6" x2="1315.4" y2="2357.6" stroke="#000" stroke-width="4"/>
<line x1="1403.4" y1="2341.6" x2="1403.4" y2="2357.6" stroke="#000" stroke-width="4"/>
<line x1="1491.4" y1="2341.6" x2="1491.4" y2="2357.6" stroke="#000" stroke-width="4"/>
<line x1="1579.4" y1="2341.6" x2="1579.4" y2="2357.6" stroke="#000" stroke-width="4"/>
<line x1="1667.4" y1="2331.6" x2="1667.4" y2="2351.6" stroke="#000" stroke-width="4"/>
<line x1="1696.5" y1="2331.6" x2="1696.5" y2="2351.6" stroke="#000" stroke-width="4"/>
<line x1="1807.2" y1="2341.6" x2="1807.2" y2="2357.6" stroke="#000" stroke-width="4"/>
<path d="M1227.4,1955.7 H1245 V2011.03 H1262.6 V2066.36 H1297.8 V2121.69 H1315.4 V2177.01 H1350.6 V2232.34 H1368.2 V2287.67 H1632.2 V2341.6" fill="none" stroke="#FF0000" stroke-width="2" stroke-linejoin="miter"/>
<path d="M1227.4,1955.7 H1341.8 V2004.11 H1350.6 V2052.53 H1359.4 V2100.94 H1403.4 V2149.35 H1412.2 V2197.76 H1456.2 V2246.18 H1473.8 V2294.59 H1668.4 M1695.5,2294.59 H1762.9 V2341.6" fill="none" stroke="#0000FF" stroke-width="2" stroke-linejoin="miter"/>
<text transform="translate(1118,2332.78) rotate(-90) scale(0.9691,1)" font-size="35.8" stroke="#000" stroke-width="0.4">Progression-free  survival</text>
<text transform="translate(1147.49,1968.2) scale(1.0000,1.0550)" font-size="34.5" stroke="#000" stroke-width="0.4">100</text>
<text transform="translate(1166.85,2066.9) scale(1.0000,1.0550)" font-size="34.5" stroke="#000" stroke-width="0.4">75</text>
<text transform="translate(1166.67,2161) scale(1.0000,1.0550)" font-size="34.5" stroke="#000" stroke-width="0.4">50</text>
<text transform="translate(1166.85,2251.6) scale(1.0000,1.0550)" font-size="34.5" stroke="#000" stroke-width="0.4">25</text>
<text transform="translate(1185.86,2343.7) scale(1.0000,1.0550)" font-size="34.5" stroke="#000" stroke-width="0.4">0</text>
<text transform="translate(1218.88,2386.5) scale(1.0000,1.0550)" font-size="34.5" stroke="#000" stroke-width="0.4">0</text>
<text transform="translate(1297.04,2386.5) scale(1.0000,1.0550)" font-size="34.5" stroke="#000" stroke-width="0.4">10</text>
<text transform="translate(1384.37,2386.5) scale(1.0000,1.0550)" font-size="34.5" stroke="#000" stroke-width="0.4">20</text>
<text transform="translate(1470.83,2386.5) scale(1.0000,1.0550)" font-size="34.5" stroke="#000" stroke-width="0.4">30</text>
<text transform="translate(1557.19,2386.5) scale(1.0000,1.0550)" font-size="34.5" stroke="#000" stroke-width="0.4">40</text>
<text transform="translate(1643.4,2386.5) scale(1.0000,1.0550)" font-size="34.5" stroke="#000" stroke-width="0.4">50</text>
<text transform="translate(1777.5,2386.5) scale(1.0000,1.0550)" font-size="34.5" stroke="#000" stroke-width="0.4">80</text>
<text transform="translate(1482.76,2429) scale(1.0000,1.0000)" font-size="34.5" stroke="#000" stroke-width="0.4">months</text>
<text transform="translate(1572.46,2250.6) scale(1.0000,1.0000)" font-size="34.5" stroke="#000" stroke-width="0.4">p = 0.046</text>
<line x1="1690.4" y1="1981.6" x2="1731.5" y2="1981.6" stroke="#0000FF" stroke-width="2"/>
<line x1="1710.9" y1="1973.7" x2="1710.9" y2="1981.6" stroke="#0000FF" stroke-width="3.8"/>
<text transform="translate(1740.84,1993) scale(1.0000,1.0000)" font-size="34.5" stroke="#000" stroke-width="0.4">WT</text>
<line x1="1690.4" y1="2033.8" x2="1731.5" y2="2033.8" stroke="#FF0000" stroke-width="2"/>
<line x1="1710.9" y1="2025.9" x2="1710.9" y2="2033.8" stroke="#FF0000" stroke-width="3.8"/>
<text transform="translate(1737.76,2044.9) scale(1.0000,1.0000)" font-size="34.5" stroke="#000" stroke-width="0.4">Mut</text>
</g>
</svg>
</body>
</html>
